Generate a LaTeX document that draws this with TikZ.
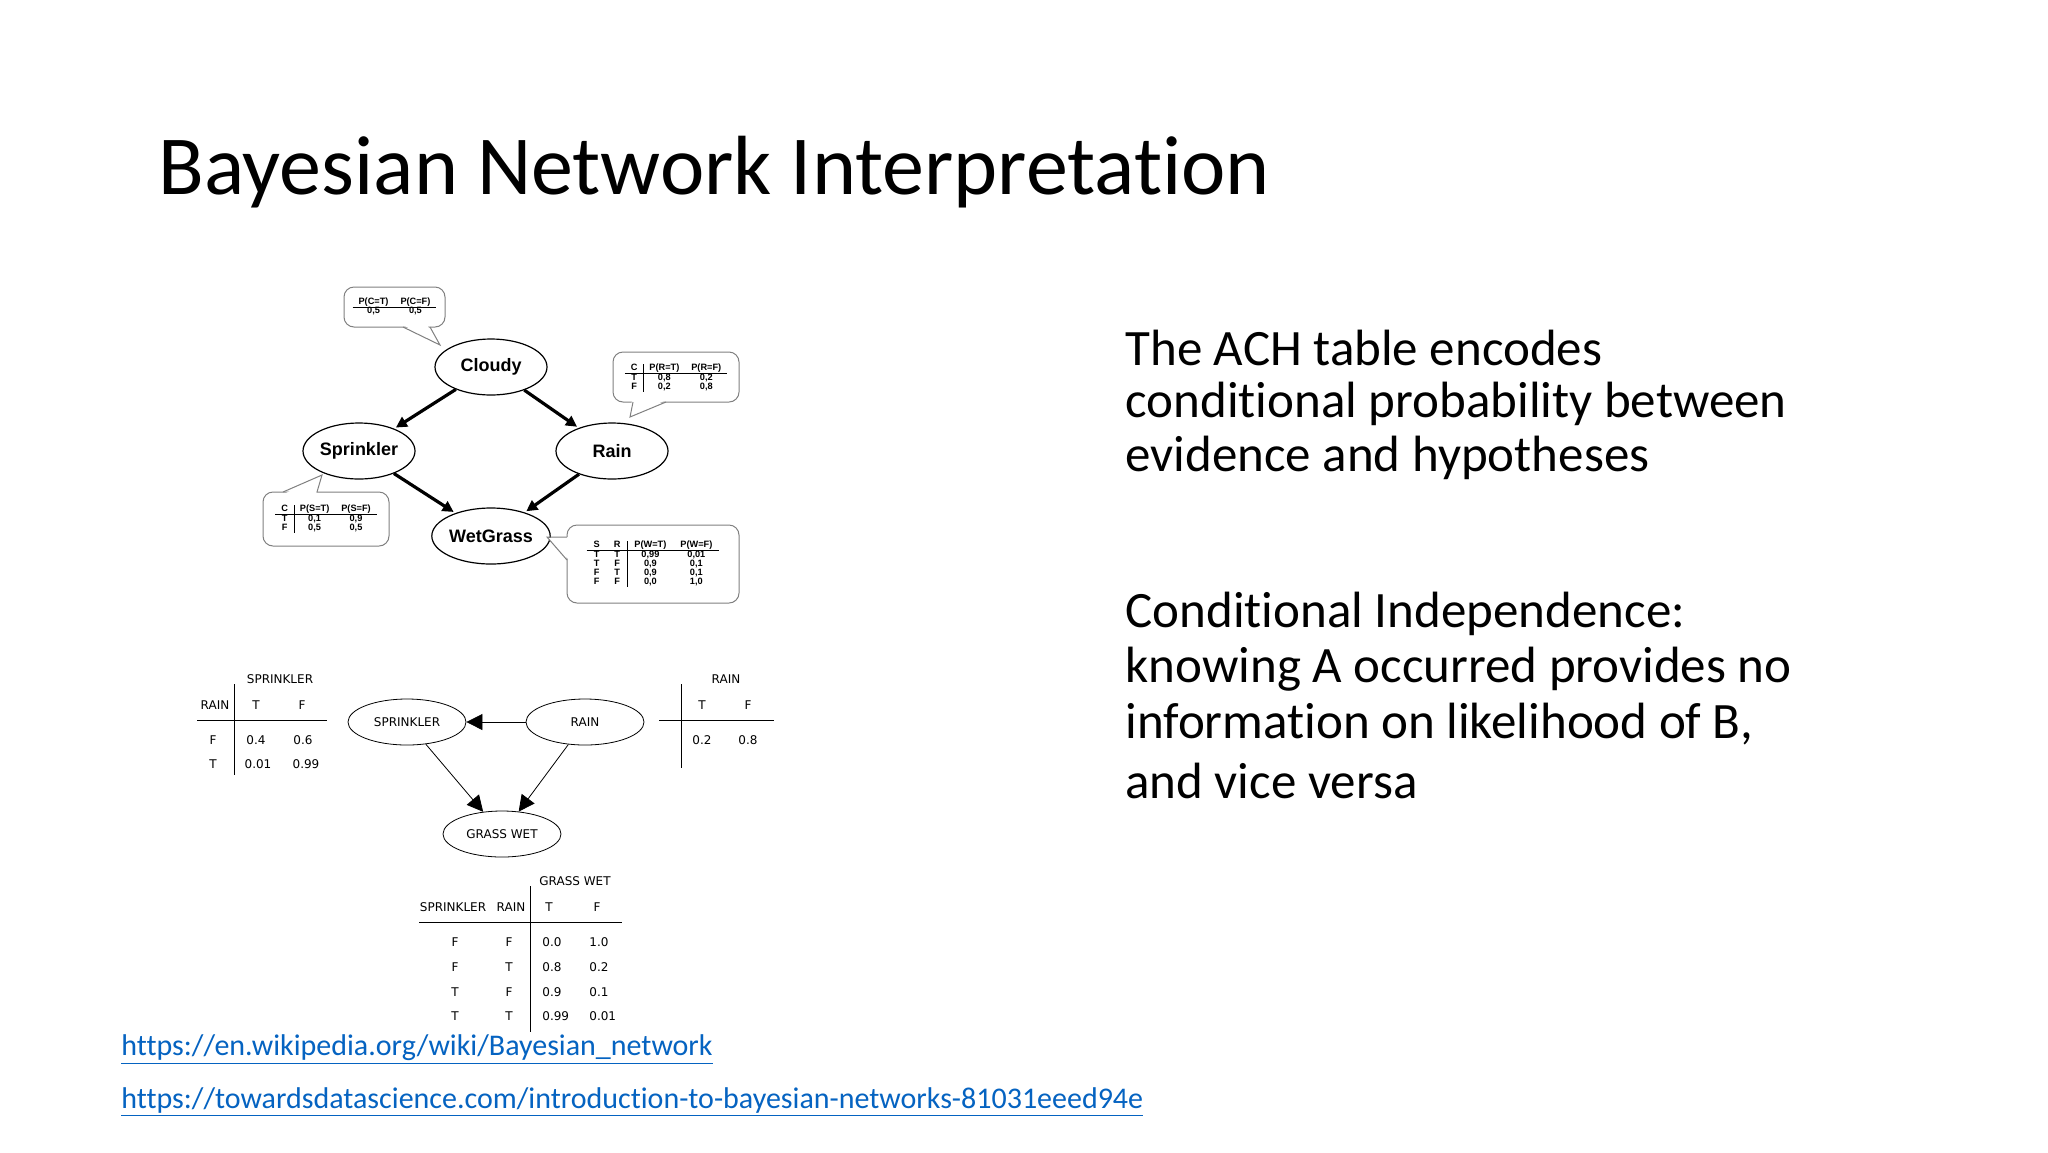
\documentclass[tikz,border=0pt]{standalone}
\usepackage{fontspec}
\setmainfont{Carlito}[Ligatures={NoCommon}]
\newfontfamily\dv{DejaVu Sans}
\newfontfamily\lsb{Liberation Sans}
\usetikzlibrary{arrows.meta,shapes.geometric}
\begin{document}
\begin{tikzpicture}[x=0.5pt,y=-0.5pt,
  big/.style={ellipse,draw,line width=0.6pt,minimum width=56pt,minimum height=28pt,inner sep=0pt,font=\lsb\bfseries\fontsize{9}{10}\selectfont},
  small/.style={ellipse,draw,line width=0.4pt,minimum width=59pt,minimum height=23pt,inner sep=0pt,font=\dv\fontsize{6}{7}\selectfont},
  tb/.style={font=\dv\fontsize{6}{7}\selectfont,inner sep=0pt},
  cpt/.style={font=\lsb\bfseries\fontsize{4.6}{5}\selectfont,inner sep=0pt},
  thk/.style={line width=1.6pt,-{Triangle[length=5.5pt,width=5.5pt]},shorten >=1pt},
  thn/.style={line width=0.4pt,-{Triangle[length=8pt,width=8pt]}},
  call/.style={draw=gray,line width=0.5pt,rounded corners=5pt,fill=white},
  txt/.style={anchor=west,inner sep=0pt,font=\fontsize{25.5}{30}\selectfont},
  lnk/.style={anchor=west,inner sep=0pt,font=\fontsize{15}{18}\selectfont,text=linkblue}]
\definecolor{linkblue}{HTML}{0563C1}
\useasboundingbox (0,0) rectangle (2048,1152);
\fill[white] (0,0) rectangle (2048,1152);
% title
\node[anchor=west,inner sep=0pt,font=\fontsize{42}{46}\selectfont] (title) at (158,172) {Bayesian Network Interpretation};
% right text
\node[txt] (t1) at (1125,348) {The ACH table encodes};
\node[txt] (t2) at (1125,404) {conditional probability between};
\node[txt] (t3) at (1125,458) {evidence and hypotheses};
\node[txt] (t4) at (1125,614) {Conditional Independence:};
\node[txt] (t5) at (1125,669) {knowing A occurred provides no};
\node[txt] (t6) at (1125,724) {information on likelihood of B,};
\node[txt] (t7) at (1125,781) {and vice versa};
% links
\node[lnk] (l1) at (121,1050) {\underline{https://en.wikipedia.org/wiki/Bayesian\_network}};
\node[lnk] (l2) at (121,1102) {\underline{https://towardsdatascience.com/introduction-to-bayesian-networks-81031eeed94e}};

% ---- top network ----
\node[big] (cl) at (491,367) {Cloudy};
\node[big] (sp) at (359,451) {Sprinkler};
\node[big] (ra) at (612,451) {Rain};
\node[big] (wg) at (491,536) {WetGrass};
\draw[thk] (cl) -- (sp);
\draw[thk] (cl) -- (ra);
\draw[thk] (sp) -- (wg);
\draw[thk] (ra) -- (wg);
% callouts
\draw[call] (344,287) rectangle (445,327);
\fill[white] (403,325) -- (427,325) -- (440,345) -- cycle;
\draw[gray,line width=0.5pt] (403,327) -- (440,345) -- (430,327);
\node[cpt] (ct) at (394.5,307) {\setlength\tabcolsep{3pt}\renewcommand\arraystretch{0.85}\begin{tabular}{cc}P(C=T)&P(C=F)\\\hline 0,5&0,5\end{tabular}};

\draw[call] (613,352) rectangle (739,402);
\fill[white] (632,400) -- (666,400) -- (630,417) -- cycle;
\draw[gray,line width=0.5pt] (633,402) -- (630,417) -- (666,402);
\node[cpt] (rt) at (676,378) {\setlength\tabcolsep{3pt}\renewcommand\arraystretch{0.85}\begin{tabular}{c|cc}C&P(R=T)&P(R=F)\\\hline T&0,8&0,2\\F&0,2&0,8\end{tabular}};

\draw[call] (263,492) rectangle (389,546);
\fill[white] (284,494) -- (316,494) -- (322,475) -- cycle;
\draw[gray,line width=0.5pt] (283,492) -- (322,475) -- (317,492);
\node[cpt] (st) at (326,519) {\setlength\tabcolsep{3pt}\renewcommand\arraystretch{0.85}\begin{tabular}{c|cc}C&P(S=T)&P(S=F)\\\hline T&0,1&0,9\\F&0,5&0,5\end{tabular}};

\draw[call] (567,525) rectangle (739,603);
\fill[white] (569,537) -- (569,560) -- (548,538) -- cycle;
\draw[gray,line width=0.5pt] (567,537) -- (547,537) -- (567,560);
\node[cpt] (wt) at (653,564) {\setlength\tabcolsep{3.5pt}\renewcommand\arraystretch{0.85}\begin{tabular}{cc|cc}S&R&P(W=T)&P(W=F)\\\hline T&T&0,99&0,01\\T&F&0,9&0,1\\F&T&0,9&0,1\\F&F&0,0&1,0\end{tabular}};

% ---- bottom network ----
\node[small] (SP) at (407,722) {SPRINKLER};
\node[small] (RA) at (585,722) {RAIN};
\node[small] (GW) at (502,834) {GRASS WET};
\draw[thn] (RA) -- (SP);
\draw[thn] (SP) -- (GW);
\draw[thn] (RA) -- (GW);

% left table
\node[tb] (a1) at (280,679) {SPRINKLER};
\node[tb] (a2) at (215,705) {RAIN};
\node[tb] (a3) at (256,705) {T};
\node[tb] (a4) at (302,705) {F};
\node[tb] (a5) at (213,740) {F};
\node[tb] (a6) at (256,740) {0.4};
\node[tb] (a7) at (303,740) {0.6};
\node[tb] (a8) at (213,764) {T};
\node[tb] (a9) at (258,764) {0.01};
\node[tb] (a10) at (306,764) {0.99};
\draw[line width=0.4pt] (234.5,684) -- (234.5,775);
\draw[line width=0.4pt] (197,720) -- (327,720);

% right table
\node[tb] (b1) at (726,679) {RAIN};
\node[tb] (b2) at (702,705) {T};
\node[tb] (b3) at (748,705) {F};
\node[tb] (b4) at (702,740) {0.2};
\node[tb] (b5) at (748,740) {0.8};
\draw[line width=0.4pt] (681,684) -- (681,768);
\draw[line width=0.4pt] (659,720) -- (774,720);

% bottom table
\node[tb] (c1) at (575,881) {GRASS WET};
\node[tb] (c2) at (453,907) {SPRINKLER};
\node[tb] (c3) at (511,907) {RAIN};
\node[tb] (c4) at (549,907) {T};
\node[tb] (c5) at (597,907) {F};
\draw[line width=0.4pt] (530,886) -- (530,1032);
\draw[line width=0.4pt] (419,922) -- (622,922);
\node[tb] (r1a) at (455,942.5) {F}; \node[tb] (r1b) at (509,942.5) {F};
\node[tb,anchor=west] (r1c) at (542,942.5) {0.0}; \node[tb,anchor=west] (r1d) at (589,942.5) {1.0};
\node[tb] (r2a) at (455,967) {F}; \node[tb] (r2b) at (509,967) {T};
\node[tb,anchor=west] (r2c) at (542,967) {0.8}; \node[tb,anchor=west] (r2d) at (589,967) {0.2};
\node[tb] (r3a) at (455,992) {T}; \node[tb] (r3b) at (509,992) {F};
\node[tb,anchor=west] (r3c) at (542,992) {0.9}; \node[tb,anchor=west] (r3d) at (589,992) {0.1};
\node[tb] (r4a) at (455,1016) {T}; \node[tb] (r4b) at (509,1016) {T};
\node[tb,anchor=west] (r4c) at (542,1016) {0.99}; \node[tb,anchor=west] (r4d) at (589,1016) {0.01};
\end{tikzpicture}
\end{document}
